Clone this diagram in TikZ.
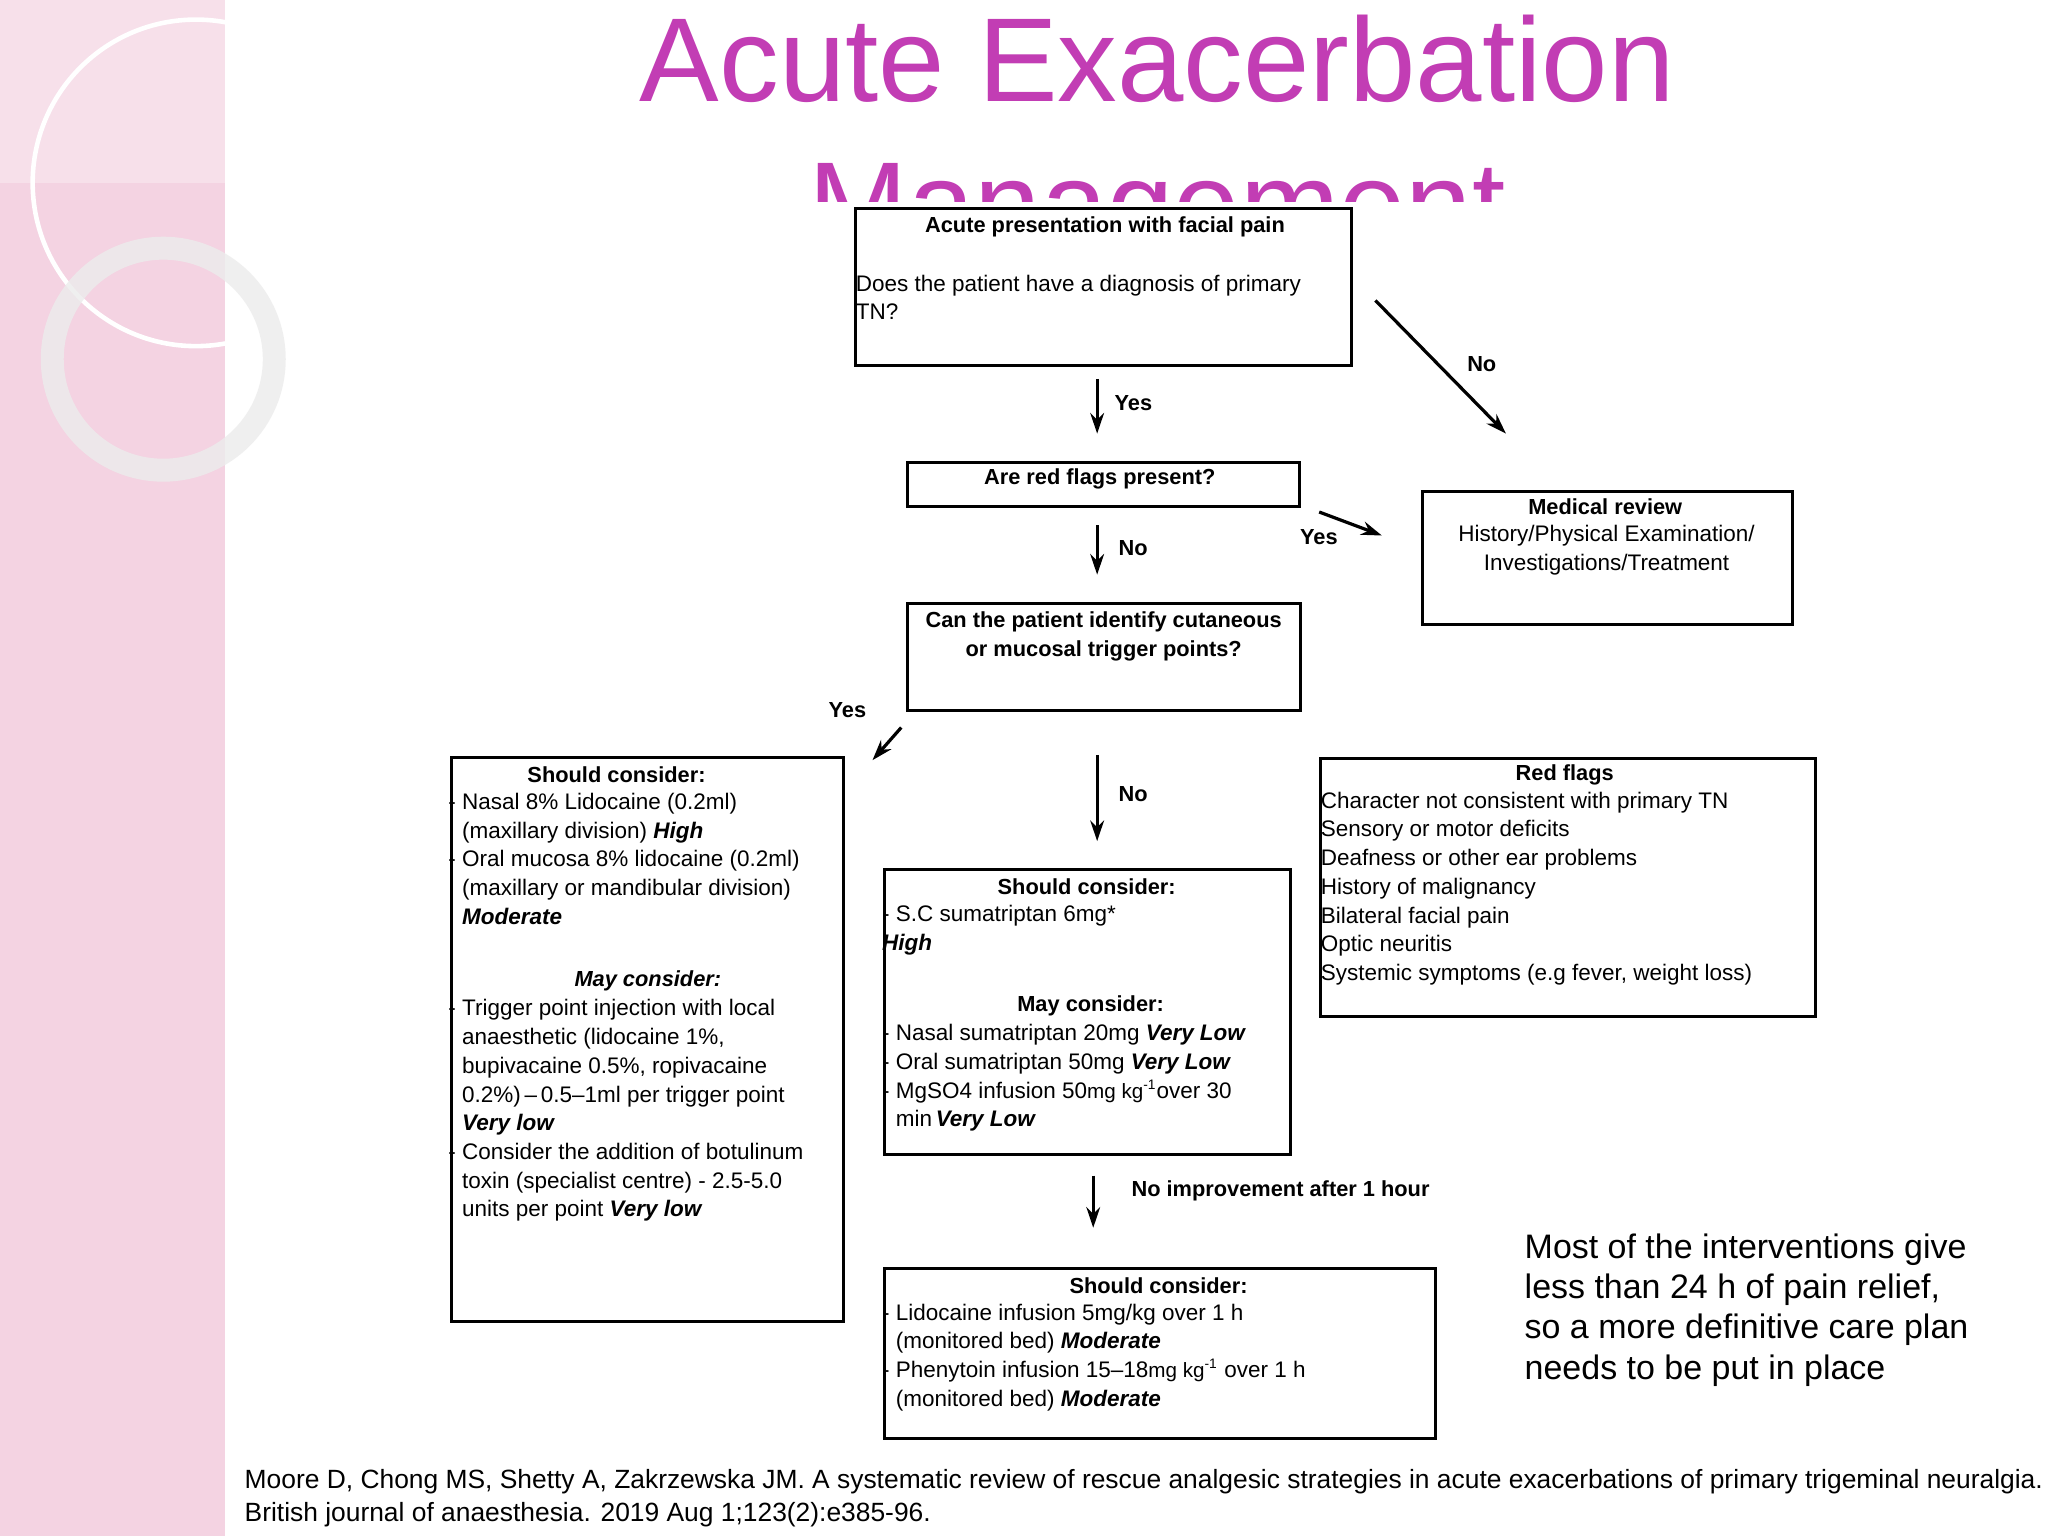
\documentclass[tikz,border=0pt]{standalone}
\usepackage{fontspec}
\setmainfont{Liberation Sans}
\usetikzlibrary{arrows.meta}
\definecolor{ttl}{HTML}{C23DB4}
\definecolor{band}{HTML}{F4D3E2}
\begin{document}
\begin{tikzpicture}[x=0.02cm,y=-0.02cm,
  box/.style={draw,line width=1.3pt},
  arr/.style={line width=1.4pt,-{Stealth[length=9pt,width=6pt]}},
  txt/.style={font=\fontsize{9.8}{12.5}\selectfont,inner sep=0pt,align=left},
  hd/.style={font=\fontsize{9.5}{12.5}\selectfont\bfseries,inner sep=0pt},
  lab/.style={font=\fontsize{9.5}{12}\selectfont\bfseries,inner sep=0pt}]
\useasboundingbox (0,0) rectangle (1568,1176);
\fill[white] (0,0) rectangle (1568,1176);
\fill[band] (0,0) rectangle (172,1176);
\draw[white,line width=2pt] (150,140) circle (125);
\draw[white!85!gray,line width=10pt,opacity=0.8] (125,275) circle (85);
\fill[white,opacity=0.3] (0,0) rectangle (172,140);
% title
\node[font=\fontsize{52}{52}\selectfont,text=ttl,inner sep=0pt,anchor=base] (t1) at (886,78) {Acute Exacerbation};
\node[font=\fontsize{52}{52}\selectfont,text=ttl,inner sep=0pt,anchor=base] (t2) at (886,188) {Management};
\fill[white] (440,155) rectangle (1400,230);
% boxes
\draw[box] (655,160) rectangle (1035,280);
\node[hd] (h1) at (846,174) {Acute presentation with facial pain};
\node[txt,anchor=north west] (b1) at (655,210) {Does the patient have a diagnosis of primary\\TN?};
\draw[box] (695,354) rectangle (995,388);
\node[hd] (h2) at (842,367) {Are red flags present?};
\draw[box] (1089,376) rectangle (1372,478);
\node[hd] (h3) at (1229,388) {Medical review};
\node[txt,align=center,anchor=north] (b3) at (1230,402) {History/Physical Examination/\\Investigations/Treatment};
\draw[box] (695,462) rectangle (996,544);
\node[hd,align=center,anchor=north] (h4) at (845,468) {Can the patient identify cutaneous\\or mucosal trigger points?};
% left box
\draw[box] (346,580) rectangle (646,1012);
\node[hd] (h5) at (472,593) {Should consider:};
\node[txt,anchor=north west] (b5) at (343,607) {- Nasal 8\% Lidocaine (0.2ml)\\\phantom{- }(maxillary division) \textbf{\textit{High}}\\- Oral mucosa 8\% lidocaine (0.2ml)\\\phantom{- }(maxillary or mandibular division)\\\phantom{- }\textbf{\textit{Moderate}}};
\node[hd,font=\fontsize{9.5}{12.5}\selectfont\bfseries\itshape] (h5b) at (496,751) {May consider:};
\node[txt,anchor=north west] (b5b) at (343,765) {- Trigger point injection with local\\\phantom{- }anaesthetic (lidocaine 1\%,\\\phantom{- }bupivacaine 0.5\%, ropivacaine\\\phantom{- }0.2\%)\,--\,0.5--1ml per trigger point\\\phantom{- }\textbf{\textit{Very low}}\\- Consider the addition of botulinum\\\phantom{- }toxin (specialist centre) - 2.5-5.0\\\phantom{- }units per point \textbf{\textit{Very low}}};
% mid box
\draw[box] (677,666) rectangle (988,884);
\node[hd] (h6) at (832,679) {Should consider:};
\node[txt,anchor=north west] (b6) at (675,693) {- S.C sumatriptan 6mg*\\\textbf{\textit{High}}};
\node[hd] (h6b) at (835,770) {May consider:};
\node[txt,anchor=north west] (b6b) at (675,784) {- Nasal sumatriptan 20mg \textbf{\textit{Very Low}}\\- Oral sumatriptan 50mg \textbf{\textit{Very Low}}\\- MgSO4 infusion 50{\small mg kg\textsuperscript{-1}}over 30\\\phantom{- }min\,\textbf{\textit{Very Low}}};
% red flags
\draw[box] (1011,581) rectangle (1390,778);
\node[hd] (h7) at (1198,593) {Red flags};
\node[txt,anchor=north west] (b7) at (1011,606) {Character not consistent with primary TN\\Sensory or motor deficits\\Deafness or other ear problems\\History of malignancy\\Bilateral facial pain\\Optic neuritis\\Systemic symptoms (e.g fever, weight loss)};
% bottom box
\draw[box] (677,971) rectangle (1099,1101);
\node[hd] (h8) at (887,984) {Should consider:};
\node[txt,anchor=north west] (b8) at (675,998) {- Lidocaine infusion 5mg/kg over 1 h\\\phantom{- }(monitored bed) \textbf{\textit{Moderate}}\\- Phenytoin infusion 15--18{\small mg kg\textsuperscript{-1}} over 1 h\\\phantom{- }(monitored bed) \textbf{\textit{Moderate}}};
% arrows
\coordinate (a1s) at (840,290); \coordinate (a1e) at (840,332);
\draw[arr] (a1s) -- (a1e); \node[lab,anchor=west] (l1) at (853,309) {Yes};
\coordinate (a2s) at (1053,230); \coordinate (a2e) at (1153,332);
\draw[arr] (a2s) -- (a2e); \node[lab,anchor=west] (l2) at (1123,279) {No};
\coordinate (a3s) at (840,402); \coordinate (a3e) at (840,440);
\draw[arr] (a3s) -- (a3e); \node[lab,anchor=west] (l3) at (856,420) {No};
\coordinate (a4s) at (1010,392); \coordinate (a4e) at (1058,410);
\draw[arr] (a4s) -- (a4e); \node[lab,anchor=west] (l4) at (995,411) {Yes};
\coordinate (a5s) at (690,557); \coordinate (a5e) at (668,582);
\draw[arr] (a5s) -- (a5e); \node[lab,anchor=west] (l5) at (634,544) {Yes};
\coordinate (a6s) at (840,578); \coordinate (a6e) at (840,644);
\draw[arr] (a6s) -- (a6e); \node[lab,anchor=west] (l6) at (856,608) {No};
\coordinate (a7s) at (837,900); \coordinate (a7e) at (837,940);
\draw[arr] (a7s) -- (a7e); \node[lab,anchor=west] (l7) at (866,912) {No improvement after 1 hour};
% side note
\node[font=\fontsize{14.8}{17.6}\selectfont,inner sep=0pt,align=left,anchor=north west] (note) at (1167,944) {Most of the interventions give\\less than 24 h of pain relief,\\so a more definitive care plan\\needs to be put in place};
\node[font=\fontsize{11.5}{14}\selectfont,inner sep=0pt,align=left,anchor=north west] (cite) at (187,1125) {Moore D, Chong MS, Shetty A, Zakrzewska JM. A systematic review of rescue analgesic strategies in acute exacerbations of primary trigeminal neuralgia.\\British journal of anaesthesia. 2019 Aug 1;123(2):e385-96.};
\end{tikzpicture}
\end{document}
